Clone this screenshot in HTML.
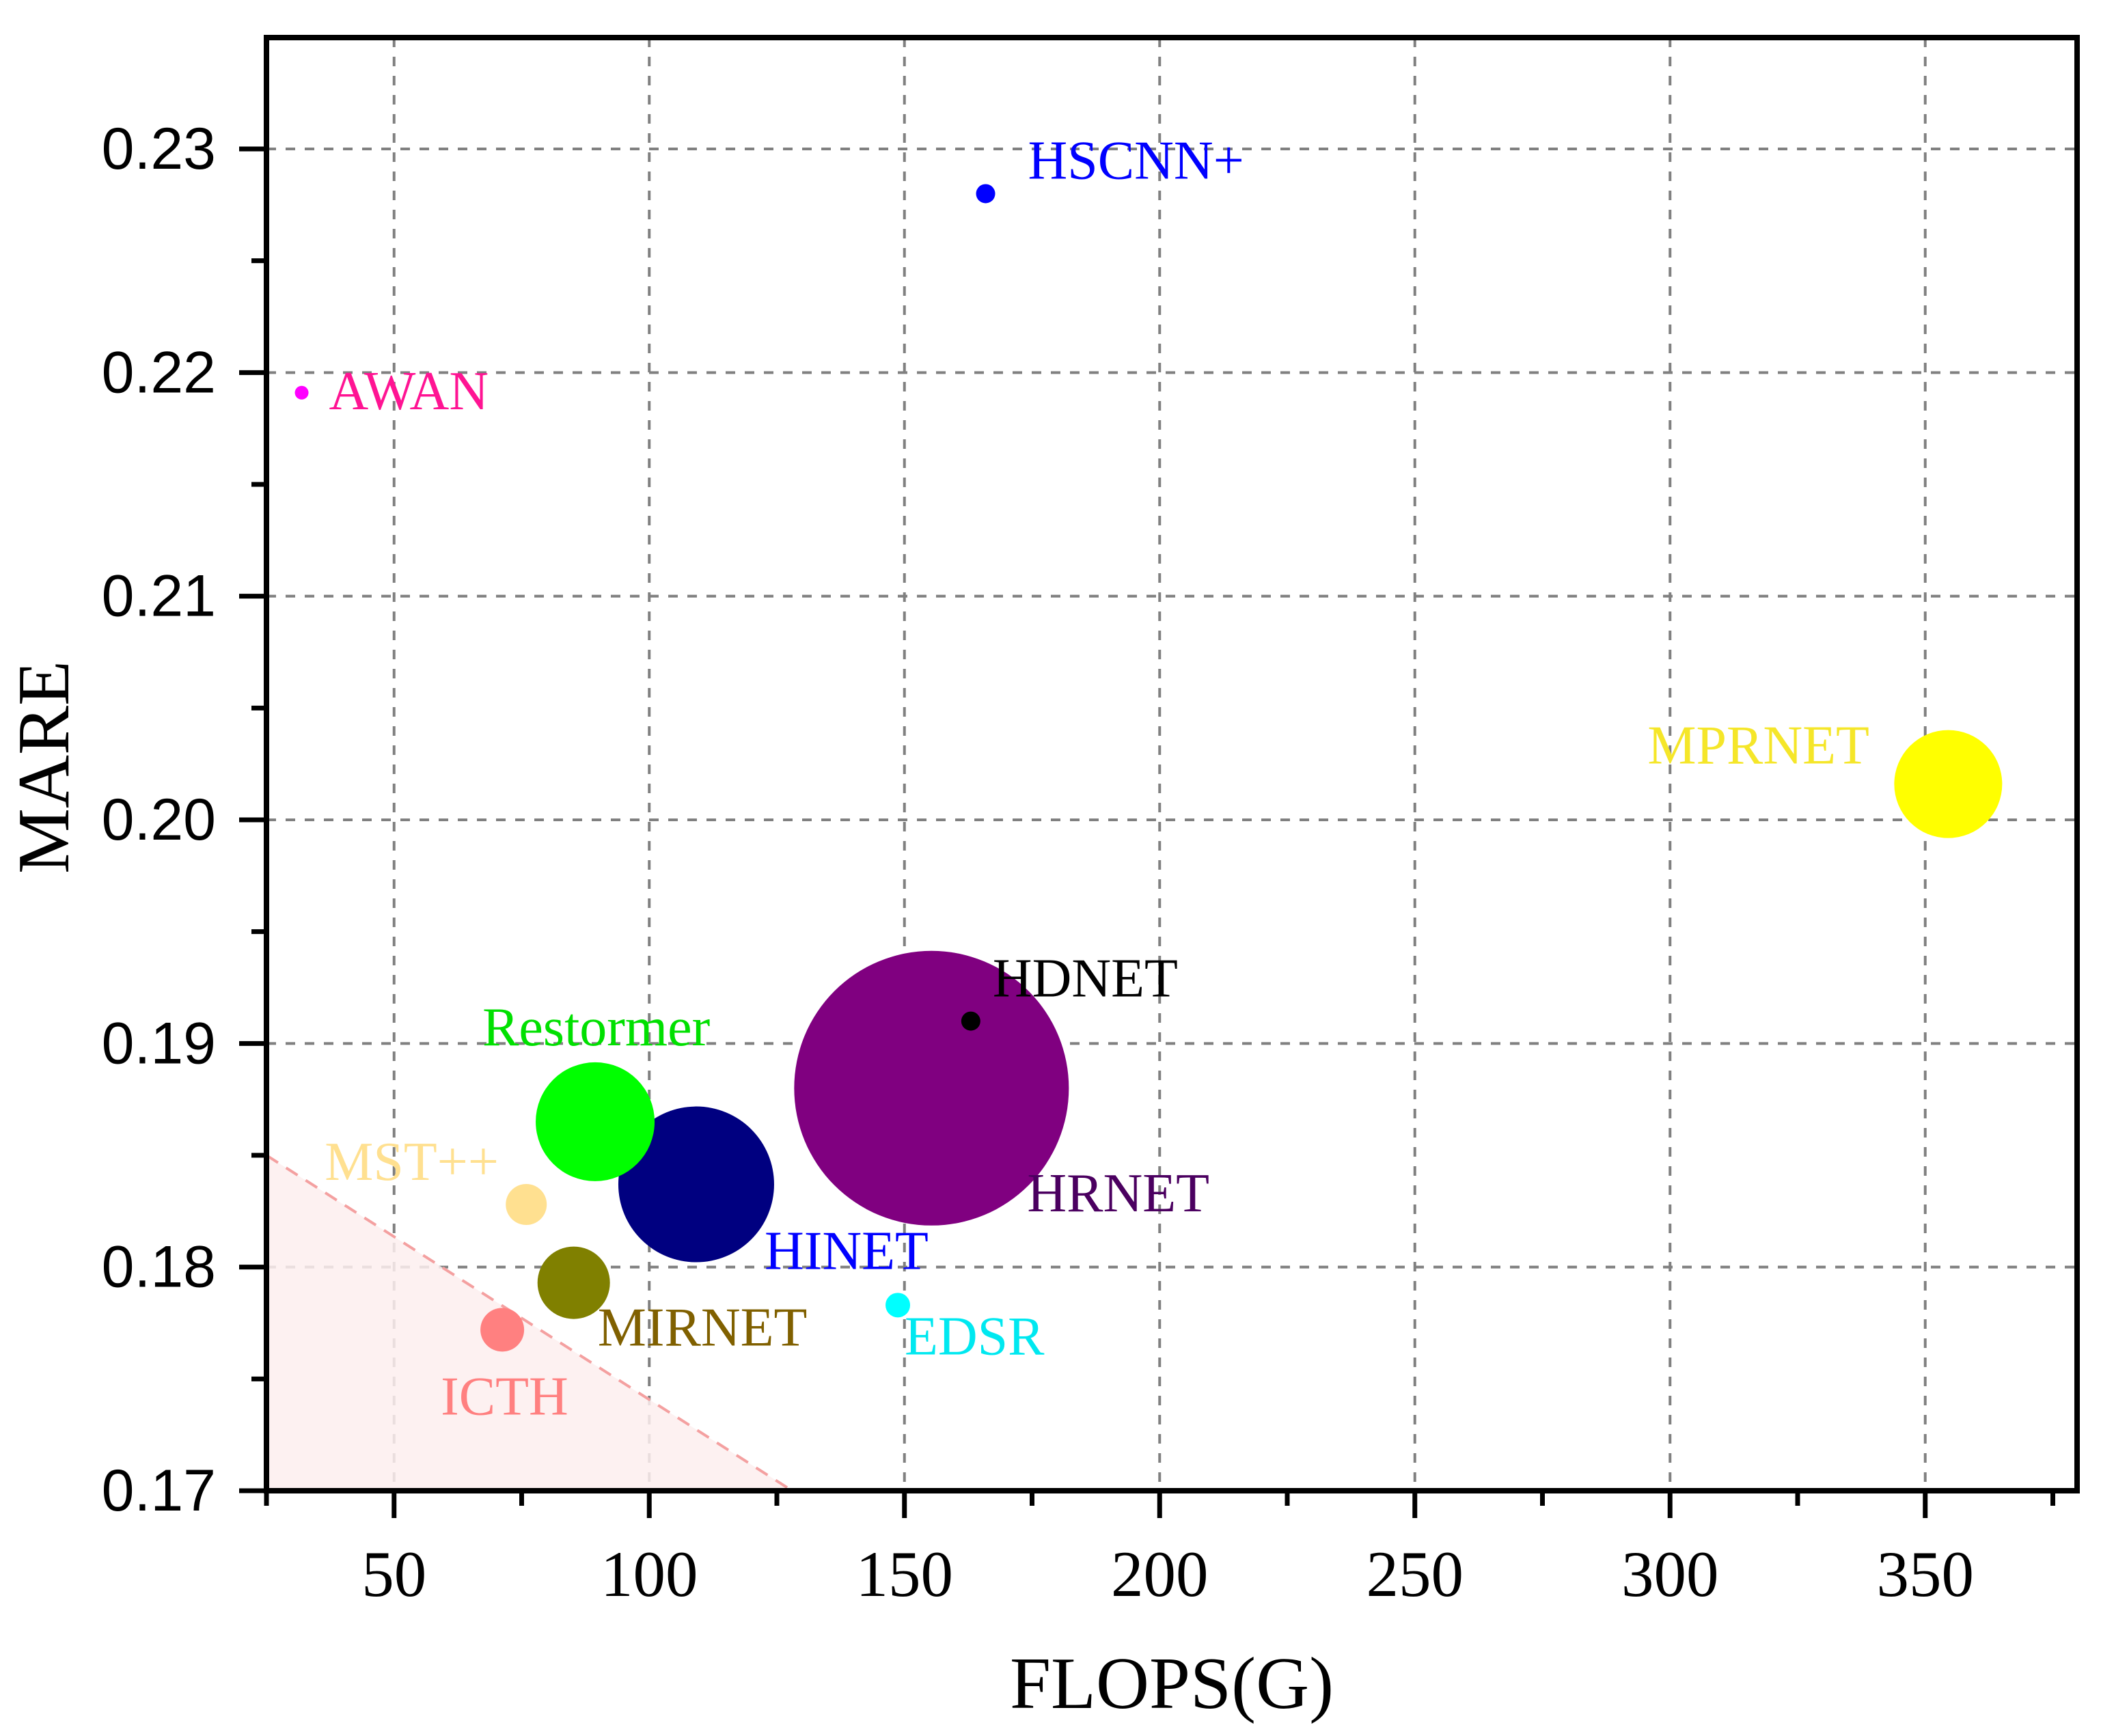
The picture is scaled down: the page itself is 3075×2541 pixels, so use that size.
<!DOCTYPE html>
<html><head><meta charset="utf-8"><style>
html,body{margin:0;padding:0;background:#fff;}
svg{display:block;}
</style></head><body>
<svg id="chart" width="3075" height="2541" viewBox="0 0 3075 2541" xmlns="http://www.w3.org/2000/svg">
<g id="grid"></g>
<g id="region"></g>
<g id="bubbles"></g>
<g id="labels"></g>
<g id="axes"></g>
<text x="1715" y="2500" font-family="'Liberation Serif',serif" font-size="108" text-anchor="middle">FLOPS(G)</text>
<text transform="translate(100,1123) rotate(-90)" font-family="'Liberation Serif',serif" font-size="108" text-anchor="middle">MARE</text>
</svg>
<script>
const models = ["HSCNN+","AWAN","MPRNET","HDNET","Restormer","HRNET","HINET","MST++","MIRNET","ICTH","EDSR"];
const flops = [165.9,31.9,354.5,163,89.4,155.3,109.2,75.9,85.2,71.2,148.7];
const mare = [0.228,0.2191,0.2016,0.191,0.1865,0.188,0.1837,0.1828,0.1793,0.1772,0.1783];
const sizes = [14,10,79,14,87,201,114,30,53,32,18];
const xTicks = [50,100,150,200,250,300,350];
const xMinor = [25,75,125,175,225,275,325,375];
const yTicks = [0.17,0.18,0.19,0.20,0.21,0.22,0.23];
const yTickLabels = ["0.17","0.18","0.19","0.20","0.21","0.22","0.23"];
const yMinor = [0.175,0.185,0.195,0.205,0.215,0.225];
const regionX = [25,128];
const regionY = [0.185,0.17];

const fillColors = ["#0000ff","#ff00ff","#ffff00","#000000","#00ff00","#800080","#000080","#ffe090","#808000","#ff8080","#00ffff"];
const textColors = ["#0000ff","#ff1493","#f5e629","#000000","#00e000","#4b0060","#0000ff","#ffe090","#806000","#ff8080","#00e8f0"];
const labelDx = [62,40,-440,32,-165,140,100,-295,35,-90,10];
const labelDy = [-22,24,-30,-36,-112,180,124,-36,92,124,72];

const L=390,R=3040,T=55,B=2182;
const X0=25,X1=25+(R-L)/7.47,Y0=0.17;
const PY=(B-218)/0.06;
const Y1=Y0+(B-T)/PY;
const sx=v=>L+(v-X0)/(X1-X0)*(R-L);
const sy=v=>B-(v-Y0)/(Y1-Y0)*(B-T);
const NS="http://www.w3.org/2000/svg";
function mk(parent,tag,attrs){const e=document.createElementNS(NS,tag);for(const k in attrs)e.setAttribute(k,attrs[k]);document.getElementById(parent).appendChild(e);return e;}

xTicks.forEach(v=>{
  const e=mk("grid","line",{x1:sx(v),x2:sx(v),y1:T,y2:B,stroke:"#808080","stroke-width":4,"stroke-dasharray":"14 14"});
  
  
});
yTicks.forEach(v=>{
  const e=mk("grid","line",{x1:L,x2:R,y1:sy(v),y2:sy(v),stroke:"#808080","stroke-width":4,"stroke-dasharray":"14 14"});
  
  
});

const poly=mk("region","polygon",{points:`${sx(regionX[0])},${sy(regionY[0])} ${sx(regionX[1])},${sy(regionY[1])} ${sx(regionX[0])},${sy(regionY[1])}`,fill:"#fdeeee","fill-opacity":0.85});


const dl=mk("region","line",{x1:sx(regionX[0]),y1:sy(regionY[0]),x2:sx(regionX[1]),y2:sy(regionY[1]),stroke:"#f4a0a0","stroke-width":4,"stroke-dasharray":"20 14"});



const order = models.map((m,i)=>i).sort((a,b)=>sizes[b]-sizes[a]);
order.forEach(i=>{
  const m=models[i];
  const c=mk("bubbles","circle",{cx:sx(flops[i]),cy:sy(mare[i]),r:sizes[i],fill:fillColors[i]});
  
  
});
models.forEach((m,i)=>{
  const t=mk("labels","text",{x:sx(flops[i])+labelDx[i],y:sy(mare[i])+labelDy[i],fill:textColors[i],"font-family":"'Liberation Serif',serif","font-size":80});
  t.textContent=m;
  
  
});

const frame=mk("axes","rect",{x:L,y:T,width:R-L,height:B-T,fill:"none",stroke:"#000","stroke-width":8});


xTicks.forEach((v,i)=>{
  const tk=mk("axes","line",{x1:sx(v),x2:sx(v),y1:B,y2:B+40,stroke:"#000","stroke-width":7});
  
  
  const t=mk("axes","text",{x:sx(v),y:2336,"text-anchor":"middle","font-family":"'Liberation Serif',serif","font-size":95});
  t.textContent=String(v);
  
  
});
xMinor.forEach(v=>{
  const tk=mk("axes","line",{x1:sx(v),x2:sx(v),y1:B,y2:B+22,stroke:"#000","stroke-width":7});
  
  
});
yTicks.forEach((v,i)=>{
  const tk=mk("axes","line",{x1:L-40,x2:L,y1:sy(v),y2:sy(v),stroke:"#000","stroke-width":7});
  
  
  const t=mk("axes","text",{x:316,y:sy(v)+29,"text-anchor":"end","font-family":"'Liberation Sans',sans-serif","font-size":86});
  t.textContent=yTickLabels[i];
  
  
});
yMinor.forEach(v=>{
  const tk=mk("axes","line",{x1:L-22,x2:L,y1:sy(v),y2:sy(v),stroke:"#000","stroke-width":7});
  
  
});
</script>
</body></html>
